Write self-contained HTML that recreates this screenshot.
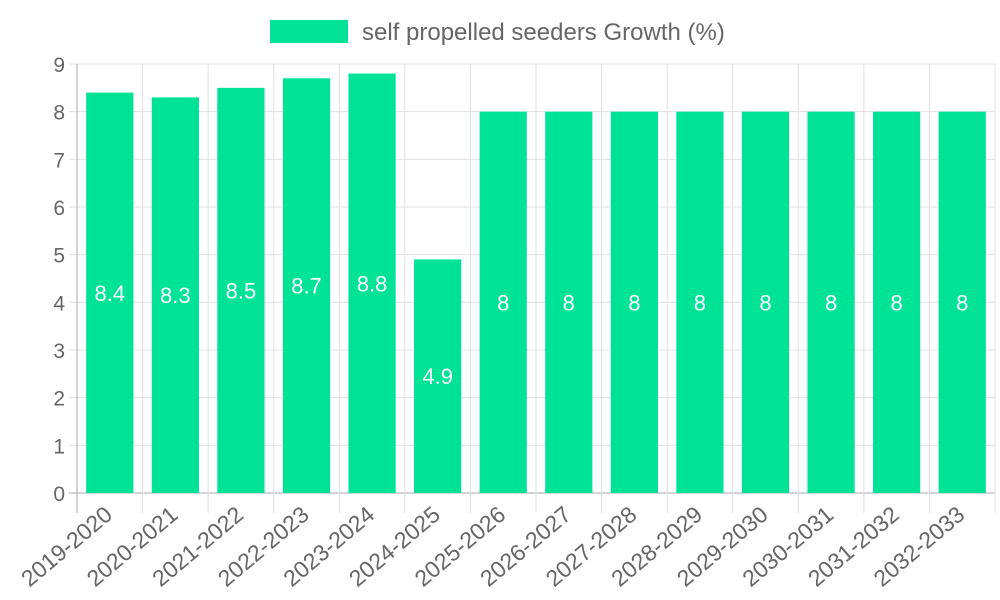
<!DOCTYPE html>
<html><head><meta charset="utf-8"><style>
body{margin:0;background:#fff;}
svg{display:block;font-family:"Liberation Sans",sans-serif;}
</style></head><body>
<svg id="c" width="1000" height="600">
<g id="legend">
<rect x="270" y="20" width="78" height="23" fill="#00e396"></rect>
<text x="362" y="40" font-size="24" fill="#666">self propelled seeders Growth (%)</text>
</g>
<g id="grid"></g><g id="bars"></g><g id="labels"></g>
</svg>
<script>
const categories=["2019-2020","2020-2021","2021-2022","2022-2023","2023-2024","2024-2025","2025-2026","2026-2027","2027-2028","2028-2029","2029-2030","2030-2031","2031-2032","2032-2033"];
const values=[8.4,8.3,8.5,8.7,8.8,4.9,8,8,8,8,8,8,8,8];
const yTicks=[0,1,2,3,4,5,6,7,8,9];
const NS="http://www.w3.org/2000/svg";
const L=77,R=995,T=64,B=493,yMax=9;
const bw=(R-L)/categories.length;
const y=v=>B-(B-T)*v/yMax;
const x=i=>L+bw*i;
function mk(tag,attrs,parent,text){const e=document.createElementNS(NS,tag);for(const k in attrs)e.setAttribute(k,attrs[k]);if(text!==undefined)e.textContent=text;parent.appendChild(e);return e;}
const g=document.getElementById('grid'),gb=document.getElementById('bars'),gl=document.getElementById('labels');
yTicks.forEach(t=>{
 const ln=mk('line',{x1:L-8,x2:R,y1:y(t),y2:y(t),stroke:t===0?'#aaa':'#e0e0e0','stroke-width':1},g);
 
 
 const tx=mk('text',{x:L-12,y:y(t)+8,'text-anchor':'end','font-size':21,fill:'#666'},g,t);
 
 
});
for(let i=0;i<=categories.length;i++){
 const ln=mk('line',{x1:x(i),x2:x(i),y1:T,y2:B+20,stroke:i===0?'#aaa':'#e0e0e0','stroke-width':1},g);
 
 
}
categories.forEach((c,i)=>{
 const cx=x(i)+bw/2,w=bw*0.72;
 const r=mk('rect',{x:cx-w/2,y:y(values[i]),width:w,height:B-y(values[i]),fill:'#00e396'},gb);
 
 
 const v=mk('text',{x:cx,y:(y(values[i])+B)/2+8,'text-anchor':'middle','font-size':22,fill:'#fff'},gl,values[i]);
 
 
 const lx=cx+4,ly=B+24;
 const t=mk('text',{x:lx,y:ly,'text-anchor':'end','font-size':23,fill:'#666',transform:`rotate(-40 ${lx} ${ly})`},gl,c);
 
 
});
</script>
</body></html>
